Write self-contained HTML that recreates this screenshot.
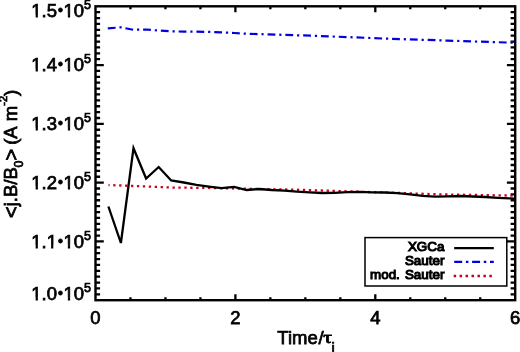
<!DOCTYPE html>
<html><head><meta charset="utf-8"><style>
html,body{margin:0;padding:0;background:#fff;overflow:hidden;}
svg{display:block;font-family:"Liberation Sans", Arial, Helvetica, sans-serif;}
</style></head><body>
<svg width="520" height="352" viewBox="0 0 520 352">
<rect x="95.5" y="6.3" width="419.70" height="293.90" fill="none" stroke="#000" stroke-width="2.4"/>
<path d="M130.47 300.2v-3.0M130.47 6.3v3.0M165.45 300.2v-3.0M165.45 6.3v3.0M200.43 300.2v-3.0M200.43 6.3v3.0M235.40 300.2v-6.0M235.40 6.3v6.0M270.38 300.2v-3.0M270.38 6.3v3.0M305.35 300.2v-3.0M305.35 6.3v3.0M340.33 300.2v-3.0M340.33 6.3v3.0M375.30 300.2v-6.0M375.30 6.3v6.0M410.28 300.2v-3.0M410.28 6.3v3.0M445.25 300.2v-3.0M445.25 6.3v3.0M480.23 300.2v-3.0M480.23 6.3v3.0M95.5 294.32h4.6M515.2 294.32h-4.6M95.5 288.44h4.6M515.2 288.44h-4.6M95.5 282.57h4.6M515.2 282.57h-4.6M95.5 276.69h4.6M515.2 276.69h-4.6M95.5 270.81h4.6M515.2 270.81h-4.6M95.5 264.93h4.6M515.2 264.93h-4.6M95.5 259.05h4.6M515.2 259.05h-4.6M95.5 253.18h4.6M515.2 253.18h-4.6M95.5 247.30h4.6M515.2 247.30h-4.6M95.5 241.42h8.3M515.2 241.42h-8.3M95.5 235.54h4.6M515.2 235.54h-4.6M95.5 229.66h4.6M515.2 229.66h-4.6M95.5 223.79h4.6M515.2 223.79h-4.6M95.5 217.91h4.6M515.2 217.91h-4.6M95.5 212.03h4.6M515.2 212.03h-4.6M95.5 206.15h4.6M515.2 206.15h-4.6M95.5 200.27h4.6M515.2 200.27h-4.6M95.5 194.40h4.6M515.2 194.40h-4.6M95.5 188.52h4.6M515.2 188.52h-4.6M95.5 182.64h8.3M515.2 182.64h-8.3M95.5 176.76h4.6M515.2 176.76h-4.6M95.5 170.88h4.6M515.2 170.88h-4.6M95.5 165.01h4.6M515.2 165.01h-4.6M95.5 159.13h4.6M515.2 159.13h-4.6M95.5 153.25h4.6M515.2 153.25h-4.6M95.5 147.37h4.6M515.2 147.37h-4.6M95.5 141.49h4.6M515.2 141.49h-4.6M95.5 135.62h4.6M515.2 135.62h-4.6M95.5 129.74h4.6M515.2 129.74h-4.6M95.5 123.86h8.3M515.2 123.86h-8.3M95.5 117.98h4.6M515.2 117.98h-4.6M95.5 112.10h4.6M515.2 112.10h-4.6M95.5 106.23h4.6M515.2 106.23h-4.6M95.5 100.35h4.6M515.2 100.35h-4.6M95.5 94.47h4.6M515.2 94.47h-4.6M95.5 88.59h4.6M515.2 88.59h-4.6M95.5 82.71h4.6M515.2 82.71h-4.6M95.5 76.84h4.6M515.2 76.84h-4.6M95.5 70.96h4.6M515.2 70.96h-4.6M95.5 65.08h8.3M515.2 65.08h-8.3M95.5 59.20h4.6M515.2 59.20h-4.6M95.5 53.32h4.6M515.2 53.32h-4.6M95.5 47.45h4.6M515.2 47.45h-4.6M95.5 41.57h4.6M515.2 41.57h-4.6M95.5 35.69h4.6M515.2 35.69h-4.6M95.5 29.81h4.6M515.2 29.81h-4.6M95.5 23.93h4.6M515.2 23.93h-4.6M95.5 18.06h4.6M515.2 18.06h-4.6M95.5 12.18h4.6M515.2 12.18h-4.6" stroke="#000" stroke-width="2.3" fill="none"/>
<g font-size="18.5" stroke="#000" stroke-width="0.75">
<text x="31.3" y="16.8">1.5<tspan dx="0.9" dy="-1.6" font-size="14">•</tspan><tspan dx="0.7" dy="1.6">10</tspan><tspan dy="-7.4" font-size="12.5">5</tspan></text>
<text x="31.3" y="71.0">1.4<tspan dx="0.9" dy="-1.6" font-size="14">•</tspan><tspan dx="0.7" dy="1.6">10</tspan><tspan dy="-8.0" font-size="12.5">5</tspan></text>
<text x="31.3" y="129.7">1.3<tspan dx="0.9" dy="-1.6" font-size="14">•</tspan><tspan dx="0.7" dy="1.6">10</tspan><tspan dy="-8.0" font-size="12.5">5</tspan></text>
<text x="31.3" y="188.6">1.2<tspan dx="0.9" dy="-1.6" font-size="14">•</tspan><tspan dx="0.7" dy="1.6">10</tspan><tspan dy="-8.0" font-size="12.5">5</tspan></text>
<text x="31.3" y="247.5">1.1<tspan dx="0.9" dy="-1.6" font-size="14">•</tspan><tspan dx="0.7" dy="1.6">10</tspan><tspan dy="-8.0" font-size="12.5">5</tspan></text>
<text x="31.3" y="299.5">1.0<tspan dx="0.9" dy="-1.6" font-size="14">•</tspan><tspan dx="0.7" dy="1.6">10</tspan><tspan dy="-8.0" font-size="12.5">5</tspan></text>
</g>
<path d="M31.60 14.80h4.05v3.6h-4.05zM37.90 14.80h3.7v3.6h-3.7zM63.82 14.80h4.05v3.6h-4.05zM70.12 14.80h3.7v3.6h-3.7zM31.60 69.00h4.05v3.6h-4.05zM37.90 69.00h3.7v3.6h-3.7zM63.82 69.00h4.05v3.6h-4.05zM70.12 69.00h3.7v3.6h-3.7zM31.60 127.70h4.05v3.6h-4.05zM37.90 127.70h3.7v3.6h-3.7zM63.82 127.70h4.05v3.6h-4.05zM70.12 127.70h3.7v3.6h-3.7zM31.60 186.60h4.05v3.6h-4.05zM37.90 186.60h3.7v3.6h-3.7zM63.82 186.60h4.05v3.6h-4.05zM70.12 186.60h3.7v3.6h-3.7zM31.60 245.50h4.05v3.6h-4.05zM37.90 245.50h3.7v3.6h-3.7zM63.82 245.50h4.05v3.6h-4.05zM70.12 245.50h3.7v3.6h-3.7zM47.02 245.50h4.05v3.6h-4.05zM53.32 245.50h3.7v3.6h-3.7zM31.60 297.50h4.05v3.6h-4.05zM37.90 297.50h3.7v3.6h-3.7zM63.82 297.50h4.05v3.6h-4.05zM70.12 297.50h3.7v3.6h-3.7z" fill="#fff"/>
<g font-size="18.5" stroke="#000" stroke-width="0.75">
<text x="95.5" y="323.7" text-anchor="middle">0</text>
<text x="235.4" y="323.7" text-anchor="middle">2</text>
<text x="375.3" y="323.7" text-anchor="middle">4</text>
<text x="515.2" y="323.7" text-anchor="middle">6</text>
<text x="277.3" y="343.5">Time<tspan dx="0.7">/</tspan></text>
<text transform="translate(323.3,343.3) scale(1.35,1)" font-family="Liberation Serif, serif" font-size="16">τ</text>
<text x="331.5" y="353" font-size="14.5">i</text>
<text transform="translate(17.3,218) rotate(-90)"><tspan font-size="20" dy="0.8">&lt;</tspan><tspan dy="-0.8">j.B/B</tspan><tspan dx="-0.2" dy="6" font-size="12.5">0</tspan><tspan dy="-5.2" font-size="20">&gt;</tspan><tspan dy="-0.8" dx="-1.2"> (A</tspan><tspan dx="1.1"> m</tspan><tspan dy="-9.9" font-size="11">-2</tspan><tspan dy="9.9">)</tspan></text>
</g>
<polyline points="107.8,28.4 120.9,27.3 133.5,29.8 146.1,29.5 158.7,30.6 171.2,31.3 183.8,31.6 196.4,31.7 208.9,31.9 221.5,32.3 234.1,33.0 246.6,33.7 320.0,36.0 387.5,38.7 447.4,40.6 506.7,42.5 514.0,42.7" fill="none" stroke="#0000e0" stroke-width="2.2" stroke-dasharray="7.8 3.9 2.2 3.9"/>
<polyline points="108.5,185.0 174.0,187.6 205.0,187.9 300.0,189.8 340.0,191.1 400.0,193.0 440.0,194.4 514.0,195.6" fill="none" stroke="#c8001e" stroke-width="2.3" stroke-dasharray="2.3 3.63" stroke-dashoffset="1.2"/>
<polyline points="108.4,206.5 120.9,243.0 133.5,148.2 146.1,178.5 158.7,167.0 171.2,180.5 183.8,182.5 196.4,184.9 208.9,186.6 221.5,188.2 234.1,186.8 246.6,190.0 259.2,189.0 271.8,190.0 284.3,190.7 296.9,191.7 309.5,192.4 322.0,193.0 334.6,192.8 347.2,192.1 359.7,191.8 372.3,192.4 384.9,192.5 397.4,193.1 410.0,194.4 422.6,195.9 435.1,196.6 447.7,196.3 460.3,196.0 472.8,196.5 485.4,197.0 498.0,197.8 510.5,198.4 514.0,198.6" fill="none" stroke="#000" stroke-width="2.3" stroke-linejoin="miter"/>
<rect x="365" y="237.6" width="141.8" height="48.4" fill="#fff" stroke="#000" stroke-width="1.5"/>
<g font-size="13.4" stroke="#000" stroke-width="1.1" text-anchor="end">
<text x="444.4" y="250.6">XGCa</text>
<text x="444.4" y="265.1">Sauter</text>
<text x="444.4" y="279.2">mod.<tspan dx="1.4"> Sauter</tspan></text>
</g>
<path d="M454.2 248.1H493.8" stroke="#000" stroke-width="2.2"/>
<path d="M454.2 261.8H493.8" stroke="#0000e0" stroke-width="2.2" stroke-dasharray="8 3.7 2.5 3.7"/>
<path d="M453.65 275.9H492" stroke="#c8001e" stroke-width="2.5" stroke-dasharray="2.5 3.45"/>
</svg>
</body></html>
